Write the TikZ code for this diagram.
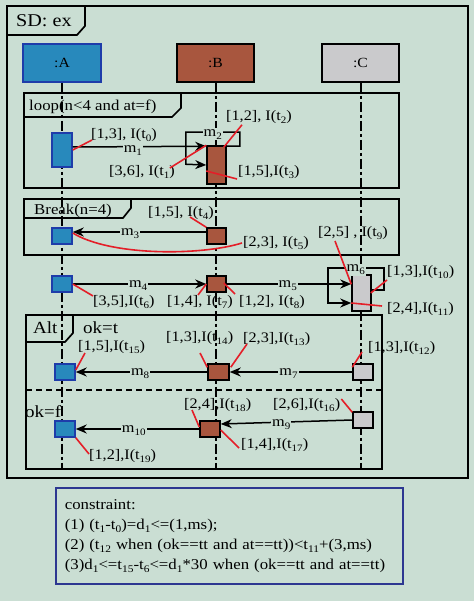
\documentclass[tikz,border=0pt]{standalone}
\usepackage{fontspec}
\setmainfont{Liberation Serif}[FakeStretch=1.12]
\usetikzlibrary{arrows.meta,calc}
\definecolor{bg}{RGB}{202,222,211}
\definecolor{ablue}{RGB}{40,137,188}
\definecolor{ablueb}{RGB}{30,60,170}
\definecolor{bbrown}{RGB}{168,86,62}
\definecolor{cgrey}{RGB}{202,202,204}
\definecolor{redl}{RGB}{228,30,40}
\definecolor{cblue}{RGB}{45,55,145}
\newcommand\tsub[1]{\raisebox{-0.45ex}{\scalebox{0.68}{#1}}}
\tikzset{
  frame/.style={draw=black, line width=1.7pt},
  life/.style={line width=1.4pt, dash pattern=on 10pt off 3pt on 3pt off 3pt},
  head/.style={line width=1.6pt, minimum width=77pt, minimum height=38pt, inner sep=0pt, font=\fontsize{14}{16}\selectfont},
  actA/.style={draw=ablueb, fill=ablue, line width=1.5pt, inner sep=0pt},
  actB/.style={draw=black, fill=bbrown, line width=1.5pt, inner sep=0pt},
  actC/.style={draw=black, fill=cgrey, line width=1.5pt, inner sep=0pt},
  msg/.style={line width=1.5pt, -{Stealth[length=11pt,width=9pt,inset=3.5pt]}},
  mlab/.style={fill=bg, inner sep=1pt, font=\fontsize{14.5}{16}\selectfont},
  lbl/.style={inner sep=1pt, anchor=west, font=\fontsize{14.5}{16}\selectfont},
  tablbl/.style={inner sep=0pt, anchor=west, font=\fontsize{15}{17}\selectfont},
  redc/.style={draw=redl, line width=1.6pt}
}
\begin{document}
\begin{tikzpicture}[x=1pt,y=-1pt]
\useasboundingbox (0,0) rectangle (474,601);
\fill[bg] (0,0) rectangle (474,601);
% outer frame
\draw[frame] (7,6) rectangle (468,478);
\draw[frame] (7,35) -- (77,35) -- (85,26) -- (85,6);
\node[tablbl, font=\fontsize{18}{20}\selectfont] (sd) at (16,21) {SD: ex};
% loop
\draw[frame] (24,93) rectangle (399,188);
\draw[frame] (24,117) -- (172,117) -- (181,108) -- (181,93);
\node[tablbl] (lp) at (29,107) {loop(n<4 and at=f)};
% break
\draw[frame] (24,199) rectangle (399,255);
\draw[frame] (24,218) -- (123,218) -- (131,208) -- (131,199);
\node[tablbl] (brk) at (34,211) {Break(n=4)};
% alt
\draw[frame] (26,315) rectangle (382,469);
\draw[frame] (26,342) -- (65,342) -- (73,333) -- (73,315);
\draw[frame, dash pattern=on 6pt off 4pt] (26,390) -- (382,390);
\node[tablbl, font=\fontsize{17}{19}\selectfont] (alt) at (33,328) {Alt};
\node[tablbl, font=\fontsize{17}{19}\selectfont] (okt) at (83,328) {ok=t};
\node[tablbl, font=\fontsize{17}{19}\selectfont] (okf) at (25,412) {ok=f};
% labels
\node[lbl] (l0) at (90,135) {[1,3], I(t\tsub{0})};
\node[lbl] (l1) at (108,172) {[3,6], I(t\tsub{1})};
\node[lbl] (l2) at (225,117) {[1,2], I(t\tsub{2})};
\node[lbl] (l3) at (237,172) {[1,5],I(t\tsub{3})};
\node[lbl] (l4) at (147,213) {[1,5], I(t\tsub{4})};
\node[lbl] (l5) at (242,243) {[2,3], I(t\tsub{5})};
\node[lbl] (l6) at (92,302) {[3,5],I(t\tsub{6})};
\node[lbl] (l7) at (166,302) {[1,4], I(t\tsub{7})};
\node[lbl] (l8) at (238,302) {[1,2], I(t\tsub{8})};
\node[lbl] (l9) at (317,233) {[2,5] , I(t\tsub{9})};
\node[lbl] (l10) at (386,272) {[1,3],I(t\tsub{10})};
\node[lbl] (l11) at (386,309) {[2,4],I(t\tsub{11})};
\node[lbl] (l12) at (367,348) {[1,3],I(t\tsub{12})};
\node[lbl] (l13) at (242,339) {[2,3],I(t\tsub{13})};
\node[lbl] (l14) at (165,338) {[1,3],I(t\tsub{14})};
\node[lbl] (l15) at (77,347) {[1,5],I(t\tsub{15})};
\node[lbl] (l16) at (272,405) {[2,6],I(t\tsub{16})};
\node[lbl] (l17) at (240,445) {[1,4],I(t\tsub{17})};
\node[lbl] (l18) at (183,405) {[2,4],I(t\tsub{18})};
\node[lbl] (l19) at (88,456) {[1,2],I(t\tsub{19})};
% heads
\node[head, fill=ablue, draw=ablueb, minimum width=78pt] (A) at (62,63) {:A};
\node[head, fill=bbrown, draw=black] (B) at (215.5,63) {:B};
\node[head, fill=cgrey, draw=black] (C) at (360.5,63) {:C};
% lifelines
\coordinate (Aend) at (62,469);
\coordinate (Bend) at (216,469);
\coordinate (Cend) at (361,469);
\draw[life] (A.south) -- (Aend);
\draw[life] (B.south -| Bend) -- (Bend);
\draw[life] (C.south -| Cend) -- (Cend);
% activations
\node[actA, minimum width=20pt, minimum height=34pt] (a1) at (62,150) {};
\node[actB, minimum width=19pt, minimum height=38pt] (b1) at (216.5,165) {};
\node[actA, minimum width=20pt, minimum height=16pt] (a2) at (62,236) {};
\node[actB, minimum width=19pt, minimum height=16pt] (b2) at (216.5,236) {};
\node[actA, minimum width=20pt, minimum height=16pt] (a3) at (62,284) {};
\node[actB, minimum width=19pt, minimum height=16pt] (b3) at (216.5,284) {};
\node[actC, minimum width=19pt, minimum height=36pt] (c3) at (361.5,293) {};
\node[actA, minimum width=20pt, minimum height=16pt] (a4) at (65,372) {};
\node[actB, minimum width=21pt, minimum height=16pt] (b4) at (218.5,372) {};
\node[actC, minimum width=20pt, minimum height=16pt] (c4) at (363,372) {};
\node[actA, minimum width=20pt, minimum height=16pt] (a5) at (65,429) {};
\node[actB, minimum width=20pt, minimum height=16pt] (b5) at (210,429) {};
\node[actC, minimum width=20pt, minimum height=16pt] (c5) at (363,420) {};
% messages
\draw[msg] ($(a1.east)+(0,-3)$) -- node[mlab,pos=0.45,yshift=-4pt]{m\tsub{1}} ($(b1.north west)+(0,1)$);
\draw[msg] ($(b1.north east)+(0,1)$) -- ++(13,0) -- ++(0,-14) -- node[mlab,yshift=-2pt]{m\tsub{2}} ++(-54,0) -- ++(0,32) -- (b1.west);
\draw[msg] ($(b2.west)+(0,-4)$) -- node[mlab,pos=0.57,yshift=-2pt]{m\tsub{3}} ($(a2.east)+(0,-4)$);
\draw[msg] (a3.east) -- node[mlab,pos=0.49,yshift=-2pt]{m\tsub{4}} (b3.west);
\draw[msg] (b3.east) -- node[mlab,pos=0.49,yshift=-2pt]{m\tsub{5}} (b3.east -| c3.west);
\draw[msg] ($(c3.east)+(0,-3)$) -- ++(12,0) -- ++(0,-22) -- node[mlab,yshift=-2pt]{m\tsub{6}} ++(-56,0) -- ++(0,35) -- ($(c3.west)+(0,10)$);
\draw[msg] (c4.west) -- node[mlab,pos=0.52,yshift=-2pt]{m\tsub{7}} (b4.east);
\draw[msg] (b4.west) -- node[mlab,pos=0.51,yshift=-2pt]{m\tsub{8}} (a4.east);
\draw[msg] (c5.west) -- node[mlab,pos=0.54,yshift=-2pt]{m\tsub{9}} ($(b5.east)+(0,-5)$);
\draw[msg] (b5.west) -- node[mlab,pos=0.53,yshift=-2pt]{m\tsub{10}} (a5.east);
% red connectors
\draw[redc] (a1.east) -- ($(l0.west)+(2,5)$);
\draw[redc] ($(l1.east)+(-6,-4)$) -- (b1.north west);
\draw[redc] ($(l2.south west)+(17,0)$) -- ($(b1.north east)+(-3,2)$);
\draw[redc] ($(b1.west)+(0,6)$) -- ($(l3.west)+(0,7)$);
\draw[redc] ($(l4.west)+(43,4)$) -- (b2.north west);
\draw[redc] ($(a2.east)+(0,-3)$) .. controls (110,256) and (200,256) .. (l5.west);
\draw[redc] (a3.east) -- ($(l6.west)+(1,-6)$);
\draw[redc] ($(l7.west)+(32,-7)$) -- (b3.west);
\draw[redc] ($(l8.west)+(-3,-8)$) -- ($(b3.east)+(-3,-1)$);
\draw[redc] ($(l9.west)+(18,8)$) -- ($(c3.north west)+(0,10)$);
\draw[redc] ($(l10.west)+(1,8)$) -- ($(c3.east)+(-1,0)$);
\draw[redc] ($(c3.west)+(0,10)$) -- ($(l11.west)+(-4,-3)$);
\draw[redc] ($(l12.west)+(-5,4)$) -- ($(c4.north west)+(0,4)$);
\draw[redc] ($(l13.west)+(5,5)$) -- ($(b4.north east)+(1,4)$);
\draw[redc] ($(l14.west)+(35,15)$) -- ($(b4.north west)+(0,4)$);
\draw[redc] ($(l15.west)+(8,6)$) -- ($(a4.east)+(0,-2)$);
\draw[redc] ($(l16.east)+(0,-6)$) -- ($(c5.north west)+(0,1)$);
\draw[redc] ($(b5.east)+(0,1)$) -- ($(l17.west)+(-1,3)$);
\draw[redc] ($(l18.west)+(9,5)$) -- ($(b5.west)+(0,-2)$);
\draw[redc] (a5.south east) -- ($(l19.west)+(1,-2)$);
% constraint box
\node[draw=cblue, line width=1.6pt, fill=bg, anchor=north west, minimum width=347pt, minimum height=96pt, text width=329pt, align=left, inner xsep=9pt, font=\fontsize{15}{20}\selectfont] (cons) at (55,487)
{constraint:\\
(1) (t\tsub{1}-t\tsub{0})=d\tsub{1}<=(1,ms);\\
(2) (t\tsub{12} when (ok==tt and at==tt))<t\tsub{11}+(3,ms)\\
(3)d\tsub{1}<=t\tsub{15}-t\tsub{6}<=d\tsub{1}*30 when (ok==tt and at==tt)};
\end{tikzpicture}
\end{document}
